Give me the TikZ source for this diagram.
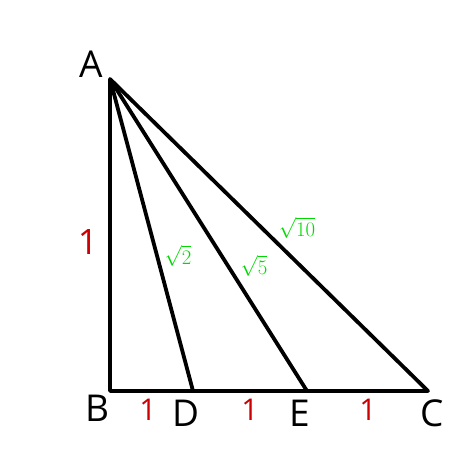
\documentclass[tikz,border=0pt]{standalone}
\usepackage{fontspec}
\setmainfont{Open Sans}
\usepackage{amsmath}
\usepackage{tikz}

\begin{document}
\begin{tikzpicture}[x=1pt,y=-1pt,line join=round,
    pt/.style={font=\fontsize{37}{37}\selectfont},
    one/.style={text=red!80!black,font=\fontsize{30}{30}\selectfont},
    root/.style={text=green!85!black,font=\fontsize{20}{20}\selectfont}]
                \useasboundingbox (0,0) rectangle (474,474);
                 \coordinate (A) at (110,79);
                 \coordinate (B) at (110,391);
                 \coordinate (D) at (193,391);
                 \coordinate (E) at (307,391);
                 \coordinate (C) at (428,391);
                 \draw[line width=3.8pt] (A) -- (B) -- (C) -- cycle;
                 \draw[line width=3.8pt] (A) -- (D);
                 \draw[line width=3.8pt] (A) -- (E);
                 \node[pt] (la) at (91,64) {A};
                 \node[pt] (lb) at (97,408) {B};
                 \node[pt] (ld) at (186,413) {D};
                 \node[pt] (le) at (300,413) {E};
                 \node[pt] (lc) at (432,413) {C};
                 \node[one,font=\fontsize{35}{35}\selectfont] (ab) at (88,242) {1};
                 \node[one] (bd) at (148,410) {1};
                 \node[one] (de) at (250,410) {1};
                 \node[one] (ec) at (368,410) {1};
                 \node[root] (ad) at (178,256) {$\sqrt{2}$};
                 \node[root] (ae) at (254,266) {$\sqrt{5}$};
                 \node[root] (ac) at (297,228) {$\sqrt{10}$};
            \end{tikzpicture}
\end{document}
